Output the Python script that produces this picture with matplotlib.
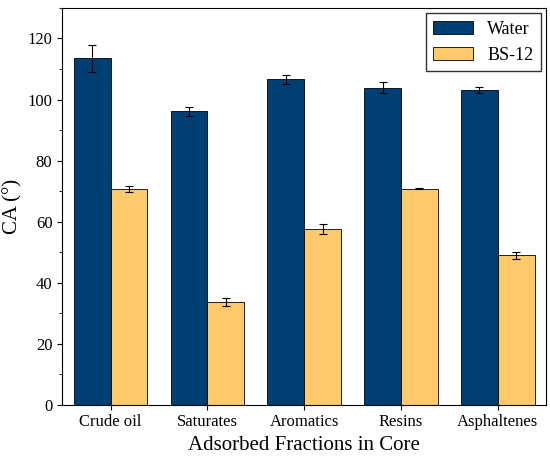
import matplotlib
matplotlib.use("Agg")
import matplotlib.pyplot as plt
import numpy as np
from matplotlib.ticker import MultipleLocator

categories = ["Crude oil", "Saturates", "Aromatics", "Resins", "Asphaltenes"]
water = [113.5, 96.1, 106.6, 103.8, 103.2]
water_err = [4.5, 1.5, 1.6, 1.8, 1.0]
bs12 = [70.8, 33.6, 57.6, 70.8, 49.0]
bs12_err = [1.0, 1.3, 1.5, 0.2, 1.1]

plt.rcParams["font.family"] = ["Liberation Serif", "DejaVu Serif"]

fig, ax = plt.subplots(figsize=(5.5, 4.69), dpi=100)
x = np.arange(len(categories))
w = 0.38
ax.bar(x - w / 2, water, w, yerr=water_err, color="#003f74", edgecolor="black",
       linewidth=0.6, capsize=3, error_kw={"elinewidth": 0.8, "capthick": 0.8}, label="Water")
ax.bar(x + w / 2, bs12, w, yerr=bs12_err, color="#fdc96b", edgecolor="black",
       linewidth=0.6, capsize=3, error_kw={"elinewidth": 0.8, "capthick": 0.8}, label="BS-12")

ax.set_xticks(x)
ax.set_xticklabels(categories, fontsize=12)
ax.set_xlim(-0.5, 4.5)
ax.set_ylim(0, 130)
ax.yaxis.set_major_locator(MultipleLocator(20))
ax.yaxis.set_minor_locator(MultipleLocator(10))
ax.tick_params(axis="y", labelsize=12)
ax.set_ylabel("CA (°)", fontsize=15)
ax.set_xlabel("Adsorbed Fractions in Core", fontsize=15)
ax.legend(loc="upper right", fontsize=13, frameon=True, fancybox=False,
          edgecolor="black", borderaxespad=0.3, handlelength=2.2)

fig.subplots_adjust(left=0.113, right=0.993, top=0.983, bottom=0.137)
fig.savefig("out.png", dpi=100)
